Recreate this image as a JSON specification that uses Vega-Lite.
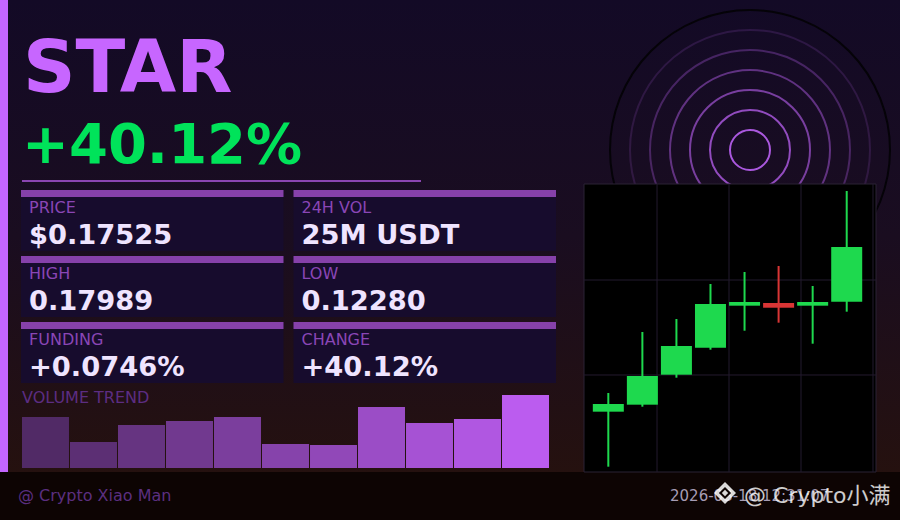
{
  "$schema": "https://vega.github.io/schema/vega-lite/v6.json",
  "width": 900,
  "height": 520,
  "padding": 0,
  "autosize": {"type": "none"},
  "background": "#0d0403",
  "config": {"view": {"stroke": null}, "font": "DejaVu Sans"},
  "datasets": {
    "one": [{}],
    "header": [{"symbol": "STAR", "change": "+40.12%"}],
    "cards": [
      {"label": "PRICE", "value": "$0.17525", "col": 0, "row": 0},
      {"label": "24H VOL", "value": "25M USDT", "col": 1, "row": 0},
      {"label": "HIGH", "value": "0.17989", "col": 0, "row": 1},
      {"label": "LOW", "value": "0.12280", "col": 1, "row": 1},
      {"label": "FUNDING", "value": "+0.0746%", "col": 0, "row": 2},
      {"label": "CHANGE", "value": "+40.12%", "col": 1, "row": 2}
    ],
    "volume": [
      {"i": 1, "v": 5.1}, {"i": 2, "v": 2.6}, {"i": 3, "v": 4.3}, {"i": 4, "v": 4.7},
      {"i": 5, "v": 5.1}, {"i": 6, "v": 2.4}, {"i": 7, "v": 2.3}, {"i": 8, "v": 6.1},
      {"i": 9, "v": 4.5}, {"i": 10, "v": 4.9}, {"i": 11, "v": 7.3}
    ],
    "candles": [
      {"t": 0, "open": 0.13419, "high": 0.13806, "low": 0.12280, "close": 0.13578},
      {"t": 1, "open": 0.13564, "high": 0.15069, "low": 0.13522, "close": 0.14158},
      {"t": 2, "open": 0.14185, "high": 0.15338, "low": 0.14123, "close": 0.14779},
      {"t": 3, "open": 0.14744, "high": 0.16063, "low": 0.14703, "close": 0.15649},
      {"t": 4, "open": 0.15614, "high": 0.16312, "low": 0.15096, "close": 0.15690},
      {"t": 5, "open": 0.15670, "high": 0.16436, "low": 0.15262, "close": 0.15572},
      {"t": 6, "open": 0.15614, "high": 0.16022, "low": 0.14827, "close": 0.15690},
      {"t": 7, "open": 0.15697, "high": 0.17989, "low": 0.15490, "close": 0.16829}
    ],
    "gridx": [{"t": 1.43}, {"t": 3.544}, {"t": 5.658}, {"t": 7.772}],
    "gridy": [{"p": 0.14179}, {"p": 0.16146}],
    "rings": [{"ring": 1}, {"ring": 2}, {"ring": 3}, {"ring": 4}, {"ring": 5}, {"ring": 6}],
    "outer": [{"ring": 7}],
    "footer": [{"credit": "@ Crypto Xiao Man", "time": "2026-03-18 12:31:07", "mark": "@ Crypto小满"}]
  },
  "layer": [
    {
      "data": {"name": "one"},
      "mark": {"type": "rect", "fill": {"gradient": "linear", "x1": 0, "y1": 0, "x2": 0, "y2": 1,
        "stops": [{"offset": 0, "color": "#130a26"}, {"offset": 0.5, "color": "#1a0d20"}, {"offset": 1, "color": "#25110f"}]}},
      "encoding": {"x": {"value": 0}, "x2": {"value": 900}, "y": {"value": 0}, "y2": {"value": 472}}
    },
    {
      "data": {"name": "one"},
      "mark": {"type": "rect", "fill": "#c466ff"},
      "encoding": {"x": {"value": 0}, "x2": {"value": 8}, "y": {"value": 0}, "y2": {"value": 472}}
    },
    {
      "data": {"name": "rings"},
      "mark": {"type": "point", "shape": "circle", "filled": false, "stroke": "#c466ff", "strokeWidth": 2},
      "encoding": {
        "x": {"value": 750}, "y": {"value": 150},
        "size": {"field": "ring", "type": "quantitative", "scale": {"type": "pow", "exponent": 2, "domain": [0, 7], "range": [0, 78400]}, "legend": null},
        "opacity": {"field": "ring", "type": "quantitative", "scale": {"domain": [1, 6], "range": [0.85, 0.14]}, "legend": null}
      }
    },
    {
      "data": {"name": "outer"},
      "mark": {"type": "point", "shape": "circle", "filled": false, "stroke": "#050308", "strokeWidth": 2, "opacity": 1},
      "encoding": {
        "x": {"value": 750}, "y": {"value": 150},
        "size": {"field": "ring", "type": "quantitative", "scale": {"type": "pow", "exponent": 2, "domain": [0, 7], "range": [0, 78400]}, "legend": null}
      }
    },
    {
      "data": {"name": "header"},
      "mark": {"type": "text", "align": "left", "baseline": "alphabetic", "fontSize": 73, "fontWeight": "bold", "fill": "#c766ff"},
      "encoding": {"x": {"value": 23}, "y": {"value": 92}, "text": {"field": "symbol"}}
    },
    {
      "data": {"name": "header"},
      "mark": {"type": "text", "align": "left", "baseline": "alphabetic", "fontSize": 56, "fontWeight": "bold", "fill": "#00e35a"},
      "encoding": {"x": {"value": 22}, "y": {"value": 163}, "text": {"field": "change"}}
    },
    {
      "data": {"name": "one"},
      "mark": {"type": "rule", "stroke": "#8a45b0", "strokeWidth": 2},
      "encoding": {"x": {"value": 22}, "x2": {"value": 421}, "y": {"value": 181}}
    },
    {
      "data": {"name": "cards"},
      "layer": [
        {
          "mark": {"type": "rect", "fill": "#170c2d"},
          "encoding": {
            "x": {"field": "col", "type": "ordinal", "axis": null},
            "y": {"field": "row", "type": "ordinal", "axis": null}
          }
        },
        {
          "mark": {"type": "rect", "fill": "#8641aa", "height": 7, "yOffset": -27},
          "encoding": {
            "x": {"field": "col", "type": "ordinal", "axis": null},
            "y": {"field": "row", "type": "ordinal", "axis": null}
          }
        },
        {
          "mark": {"type": "text", "align": "left", "baseline": "alphabetic", "fontSize": 16, "fill": "#8a46b6", "dx": 8, "dy": 23},
          "encoding": {
            "x": {"field": "col", "type": "ordinal", "bandPosition": 0, "axis": null},
            "y": {"field": "row", "type": "ordinal", "bandPosition": 0, "axis": null},
            "text": {"field": "label"}
          }
        },
        {
          "mark": {"type": "text", "align": "left", "baseline": "alphabetic", "fontSize": 27.3, "fontWeight": "bold", "fill": "#efe4ff", "dx": 8, "dy": 54},
          "encoding": {
            "x": {"field": "col", "type": "ordinal", "bandPosition": 0, "axis": null,
              "scale": {"type": "band", "domain": [0, 1], "range": [21, 556], "paddingInner": 0.0367, "paddingOuter": 0}},
            "y": {"field": "row", "type": "ordinal", "bandPosition": 0, "axis": null,
              "scale": {"type": "band", "domain": [0, 1, 2], "range": [190, 383], "paddingInner": 0.076, "paddingOuter": 0}},
            "text": {"field": "value"}
          }
        }
      ]
    },
    {
      "data": {"name": "one"},
      "mark": {"type": "text", "align": "left", "baseline": "alphabetic", "fontSize": 16, "fill": "#5c2d82", "text": "VOLUME TREND"},
      "encoding": {"x": {"value": 22}, "y": {"value": 403}}
    },
    {
      "data": {"name": "volume"},
      "mark": {"type": "bar"},
      "encoding": {
        "x": {"field": "i", "type": "ordinal", "axis": null,
          "scale": {"type": "band", "range": [22, 549], "paddingInner": 0.021, "paddingOuter": 0}},
        "y": {"field": "v", "type": "quantitative", "axis": null,
          "scale": {"domain": [0, 7.3], "range": [468, 395], "zero": true, "nice": false}},
        "color": {"field": "i", "type": "quantitative", "legend": null,
          "scale": {"domain": [1, 11], "range": ["#512a66", "#bb5cef"], "interpolate": "rgb"}}
      }
    },
    {
      "data": {"name": "one"},
      "mark": {"type": "rect", "fill": "#000000", "stroke": "#2a2234", "strokeWidth": 1},
      "encoding": {"x": {"value": 584}, "x2": {"value": 876}, "y": {"value": 184}, "y2": {"value": 472}}
    },
    {
      "layer": [
        {
          "data": {"name": "gridx"},
          "mark": {"type": "rule", "stroke": "#231a2e", "strokeWidth": 1},
          "encoding": {
            "x": {"field": "t", "type": "quantitative", "axis": null,
              "scale": {"domain": [-0.714, 7.86], "range": [584, 876], "nice": false, "zero": false, "padding": 0}},
            "y": {"value": 184},
            "y2": {"value": 472}
          }
        },
        {
          "data": {"name": "gridy"},
          "mark": {"type": "rule", "stroke": "#231a2e", "strokeWidth": 1},
          "encoding": {
            "y": {"field": "p", "type": "quantitative", "axis": null,
              "scale": {"domain": [0.1217, 0.18134], "range": [472, 184], "nice": false, "zero": false, "padding": 0}},
            "x": {"value": 584},
            "x2": {"value": 876}
          }
        },
        {
          "data": {"name": "candles"},
          "mark": {"type": "rule", "strokeWidth": 2},
          "encoding": {
            "x": {"field": "t", "type": "quantitative", "axis": null},
            "y": {"field": "low", "type": "quantitative", "axis": null},
            "y2": {"field": "high"},
            "color": {"condition": {"test": "datum.close >= datum.open", "value": "#1ed94e"}, "value": "#d93535"}
          }
        },
        {
          "data": {"name": "candles"},
          "mark": {"type": "bar", "width": 31},
          "encoding": {
            "x": {"field": "t", "type": "quantitative", "axis": null},
            "y": {"field": "open", "type": "quantitative", "axis": null},
            "y2": {"field": "close"},
            "color": {"condition": {"test": "datum.close >= datum.open", "value": "#1ed94e"}, "value": "#d93535"}
          }
        }
      ]
    },
    {
      "data": {"name": "footer"},
      "mark": {"type": "text", "align": "left", "baseline": "alphabetic", "fontSize": 16, "fill": "#5b2f80"},
      "encoding": {"x": {"value": 18}, "y": {"value": 501}, "text": {"field": "credit"}}
    },
    {
      "data": {"name": "footer"},
      "mark": {"type": "text", "align": "left", "baseline": "alphabetic", "fontSize": 15, "fill": "#a69cb4"},
      "encoding": {"x": {"value": 670}, "y": {"value": 501}, "text": {"field": "time"}}
    },
    {
      "data": {"name": "one"},
      "mark": {"type": "point", "shape": "diamond", "filled": true, "fill": "#ffffff", "opacity": 0.85, "size": 484},
      "encoding": {"x": {"value": 725}, "y": {"value": 493}}
    },
    {
      "data": {"name": "one"},
      "mark": {"type": "point", "shape": "diamond", "filled": true, "fill": "#0d0403", "opacity": 1, "size": 150},
      "encoding": {"x": {"value": 725}, "y": {"value": 493}}
    },
    {
      "data": {"name": "one"},
      "mark": {"type": "point", "shape": "diamond", "filled": true, "fill": "#ffffff", "opacity": 0.85, "size": 40},
      "encoding": {"x": {"value": 725}, "y": {"value": 493}}
    },
    {
      "data": {"name": "footer"},
      "mark": {"type": "text", "align": "left", "baseline": "alphabetic", "fontSize": 22, "fill": "#ffffff", "opacity": 0.8, "font": "DejaVu Sans, Noto Sans CJK SC"},
      "encoding": {"x": {"value": 744}, "y": {"value": 503}, "text": {"field": "mark"}}
    }
  ],
  "resolve": {"scale": {"x": "independent", "y": "independent", "size": "independent", "opacity": "independent", "color": "independent"}}
}
